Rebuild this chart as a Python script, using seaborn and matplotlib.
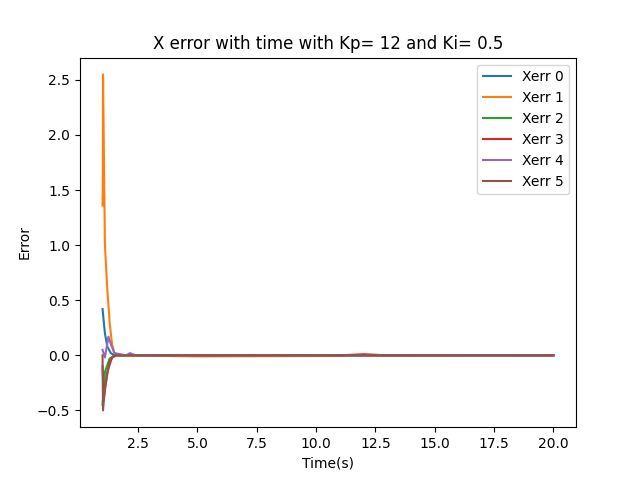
import matplotlib
matplotlib.use("Agg")
import matplotlib.pyplot as plt
import seaborn as sns
import pandas as pd

# sampled (time, error) readings per trace
t0 = [1.0, 1.1, 1.2, 1.35, 1.5, 3.0, 10.0, 20.0]
e0 = [0.42, 0.2, 0.08, 0.02, 0.0, 0.0, 0.0, 0.0]
t1 = [1.0, 1.01, 1.02, 1.1, 1.2, 1.3, 1.4, 1.5, 1.7, 5.0, 20.0]
e1 = [1.36, 1.53, 2.55, 1.0, 0.6, 0.3, 0.1, 0.02, 0.0, -0.01, 0.0]
t2 = [1.0, 1.1, 1.3, 1.5, 5.0, 20.0]
e2 = [-0.45, -0.15, -0.03, 0.0, 0.0, 0.0]
t3 = [1.0, 1.05, 1.2, 1.4, 1.6, 11.0, 12.0, 13.0, 20.0]
e3 = [-0.1, -0.4, -0.15, -0.02, 0.0, 0.0, 0.01, 0.0, 0.0]
t4 = [1.0, 1.1, 1.25, 1.35, 1.5, 2.0, 2.15, 2.4, 20.0]
e4 = [0.05, -0.02, 0.17, 0.1, 0.02, 0.0, 0.02, 0.0, 0.0]
t5 = [1.0, 1.02, 1.1, 1.3, 1.5, 20.0]
e5 = [0.0, -0.5, -0.3, -0.05, 0.0, 0.0]

times = [t0, t1, t2, t3, t4, t5]
errs = [e0, e1, e2, e3, e4, e5]

frames = []
for i, (t, e) in enumerate(zip(times, errs)):
    frames.append(pd.DataFrame({"t": t, "err": e, "series": f"Xerr {i}"}))
df = pd.concat(frames, ignore_index=True)

fig, ax = plt.subplots(figsize=(6.4, 4.8), dpi=100)
sns.lineplot(data=df, x="t", y="err", hue="series", palette="tab10",
             estimator=None, sort=False, ax=ax)
ax.legend(loc="upper right")
ax.set_title("X error with time with Kp= 12 and Ki= 0.5")
ax.set_xlabel("Time(s)")
ax.set_ylabel("Error")
ax.set_xticks([2.5, 5.0, 7.5, 10.0, 12.5, 15.0, 17.5, 20.0])
fig.savefig("out.png")
